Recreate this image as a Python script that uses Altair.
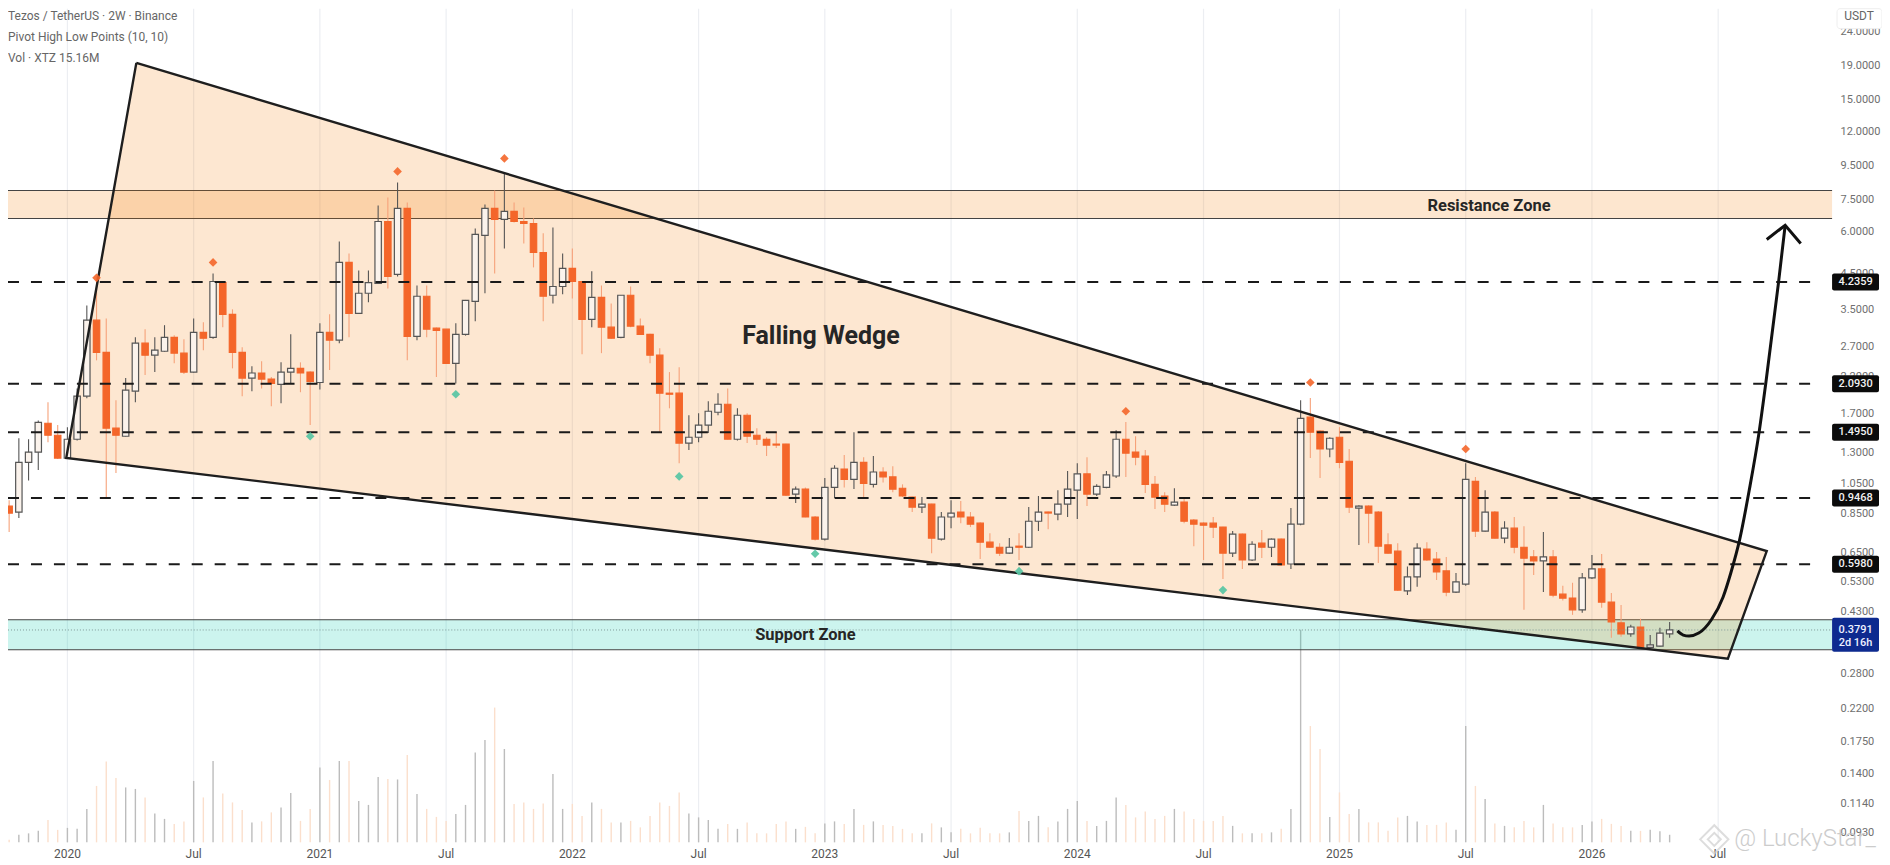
import altair as alt
import numpy as np
import pandas as pd

W, H = 1827, 835
X_DOM = [-6.118, 181.73]
Y_DOM = [0.0869, 28.2]

first_bar = -6
opens = [.895,.859,1.213,1.302,1.59,1.463,1.249,1.423,1.919,3.25,2.60,1.537,1.453,1.986,2.772,2.55,2.62,2.886,2.586,2.268,2.988,2.886,4.22,3.385,2.60,2.176,2.253,2.161,2.082,2.268,2.327,2.268,2.11,2.988,2.83,4.852,3.408,3.918,4.192,6.445,4.465,7.058,2.907,3.837,3.075,3.053,2.41,2.947,3.704,5.854,7.058,6.54,6.912,6.445,6.356,5.197,3.864,4.106,4.655,4.25,3.27,3.81,3.096,2.886,3.864,3.118,2.947,2.55,1.959,1.959,1.386,1.443,1.57,1.716,1.814,1.423,1.681,1.463,1.423,1.376,1.376,.973,1.007,.830,.712,1.019,1.158,1.078,1.213,1.041,1.134,1.096,1.013,.953,.889,.907,.712,.830,.859,.83,.795,.697,.673,.646,.678,.673,.806,.859,.847,.907,1.00,1.119,.973,1.019,1.103,1.423,1.302,1.266,1.041,.96,.901,.92,.812,.795,.795,.774,.646,.737,.616,.692,.673,.712,.599,.79,1.659,1.505,1.33,1.443,1.222,.883,.895,.859,.684,.655,.497,.548,.664,.62,.571,.493,.521,1.063,.753,.859,.717,.768,.673,.629,.612,.629,.486,.473,.436,.544,.579,.46,.398,.369,.387,.336,.339,.369]
highs = [.933,1.433,1.423,1.62,1.84,1.57,1.548,2.025,3.60,4.40,3.29,1.865,2.176,2.886,3.053,2.886,3.14,2.927,2.847,3.29,3.205,4.495,4.26,3.504,2.696,2.36,2.443,2.191,2.426,2.947,2.426,2.28,3.183,3.385,5.61,5.16,4.59,4.59,7.206,7.61,8.45,7.357,4.134,4.134,3.09,3.06,3.183,3.74,6.14,7.256,7.99,9.05,7.357,7.107,6.585,5.935,6.182,5.16,5.345,4.26,4.56,4.134,3.65,3.87,4.106,3.29,2.96,2.677,2.268,2.343,1.681,1.704,1.852,1.959,2.025,1.764,1.704,1.537,1.443,1.494,1.38,1.026,1.019,.836,1.088,1.188,1.275,1.494,1.257,1.266,1.172,1.18,1.041,.955,.953,.91,.859,.933,.927,.859,.80,.742,.692,.717,.742,.889,.96,.862,1.00,1.142,1.205,1.257,1.041,1.142,1.515,1.603,1.453,1.32,1.103,.986,1.013,.953,.818,.80,.83,.776,.753,.74,.702,.758,.715,.715,.883,1.865,1.893,1.515,1.443,1.548,1.33,.901,.901,.865,.742,.692,.589,.692,.697,.651,.629,.563,1.205,1.096,1.00,.865,.806,.83,.778,.66,.748,.66,.515,.526,.563,.638,.642,.49,.451,.393,.41,.366,.385,.401]
lows = [.748,.824,1.07,1.15,1.395,1.24,1.24,1.41,1.89,2.46,.953,1.126,1.45,1.839,2.222,2.268,2.61,2.41,2.237,2.26,2.64,2.86,3.096,2.327,1.919,1.986,2.025,1.789,1.827,2.096,1.972,1.57,2.011,2.30,2.772,2.886,3.40,3.678,4.18,4.05,4.40,2.46,2.83,2.886,2.191,2.40,2.096,2.92,3.228,3.918,4.495,5.345,6.40,5.534,4.687,3.228,3.65,3.89,3.78,2.568,3.096,2.586,2.86,2.867,3.096,2.94,2.41,1.494,1.764,1.205,1.32,1.395,1.485,1.681,1.42,1.41,1.386,1.367,1.266,1.34,.96,.914,.828,.705,.705,.947,1.019,1.007,.953,1.019,1.055,.986,.953,.859,.853,.646,.705,.768,.795,.774,.62,.669,.633,.643,.616,.669,.753,.763,.812,.83,.818,.895,.96,1.013,1.088,1.096,1.188,.98,.877,.859,.895,.795,.678,.616,.717,.54,.629,.579,.612,.624,.629,.593,.579,.784,1.249,1.088,1.257,1.164,.853,.684,.692,.603,.643,.497,.483,.512,.612,.536,.479,.49,.515,.723,.75,.715,.692,.646,.436,.555,.493,.476,.465,.421,.427,.54,.442,.359,.362,.362,.334,.335,.338,.359]
closes = [.853,1.213,1.302,1.60,1.463,1.249,1.423,1.919,3.25,2.60,1.537,1.463,2.00,2.772,2.55,2.64,2.886,2.586,2.268,2.988,2.867,4.25,3.385,2.60,2.176,2.253,2.161,2.096,2.268,2.327,2.253,2.125,2.988,2.83,4.852,3.408,3.918,4.22,6.445,4.40,7.058,2.907,3.837,3.053,3.03,2.41,2.947,3.73,5.895,7.058,6.54,6.912,6.445,6.356,5.197,3.837,4.106,4.655,4.25,3.27,3.81,3.096,2.867,3.864,3.118,2.947,2.55,1.959,1.945,1.386,1.443,1.57,1.728,1.814,1.423,1.681,1.453,1.423,1.367,1.367,.966,1.007,.830,.712,1.019,1.164,1.078,1.213,1.048,1.134,1.096,1.007,.96,.889,.907,.717,.830,.853,.830,.79,.697,.673,.646,.673,.673,.806,.859,.853,.907,1.007,1.119,.973,1.026,1.111,1.423,1.293,1.257,1.041,.953,.907,.92,.806,.79,.784,.774,.646,.737,.616,.687,.673,.712,.595,.79,1.646,1.494,1.33,1.433,1.213,.889,.895,.853,.678,.646,.50,.548,.669,.616,.567,.493,.529,1.078,.753,.859,.717,.768,.673,.624,.612,.629,.483,.473,.436,.544,.579,.46,.401,.369,.387,.336,.342,.371,.3791]
volumes = [5,15,18,23,45,25,29,27,67,113,162,129,110,107,90,58,47,37,42,123,90,163,98,80,65,40,42,60,70,99,43,67,150,125,163,163,83,75,131,127,126,175,97,67,51,43,57,75,180,205,270,187,77,80,67,78,137,67,77,53,80,67,40,40,43,30,53,80,73,100,58,50,45,27,37,27,40,18,18,37,42,27,31,18,38,42,37,67,35,42,35,33,27,18,18,38,30,20,27,18,29,18,18,20,63,43,53,30,42,67,83,43,33,43,90,75,50,62,47,53,67,62,47,43,43,53,33,18,18,18,20,27,67,426,233,187,51,100,57,67,40,40,23,50,53,42,35,35,40,25,233,113,87,38,33,30,43,30,75,38,30,30,35,42,47,37,33,23,23,25,22,15.16]

tick_bars = [0, 13, 26, 39, 52, 65, 78, 91, 104, 117, 131, 144, 157, 170]
tick_text = ["2020", "Jul", "2021", "Jul", "2022", "Jul", "2023", "Jul", "2024", "Jul", "2025", "Jul", "2026", "Jul"]
price_ticks = [24, 19, 15, 12, 9.5, 7.5, 6, 4.5, 3.5, 2.7, 2.2, 1.7, 1.3, 1.05, .85, .65, .53, .43, .28, .22, .175, .14, .114, .093]

level_prices = [4.2359, 2.093, 1.495, .9468, .598]
resistance = [6.58, 7.99]
support = [.3306, .407]
last_price = .3791

pivot_high_bars = [3, 15, 34, 45, 109, 128, 144]
pivot_high_prices = [4.36, 4.852, 9.12, 9.98, 1.728, 2.11, 1.33]
pivot_low_bars = [25, 40, 63, 77, 98, 119]
pivot_low_prices = [1.453, 1.945, 1.10, .643, .57, .50]

wedge_bars = [7.1, 175.0, 171.0, -0.12, 7.1]
wedge_prices = [19.36, .655, .3106, 1.25, 19.36]

curve_bars = [165.8, 166.4, 167, 168, 169.3, 170.5, 171.3, 172.2, 173.2, 174.2, 174.9, 176.2, 176.9]
curve_prices = [.3766, .366, .3635, .371, .407, .476, .563, .707, 1.00, 1.485, 2.096, 4.19, 6.28]
head_bars = [175, 176.9, 178.5]
head_prices = [5.69, 6.28, 5.534]

df = pd.DataFrame({"i": list(range(first_bar, first_bar + len(opens))), "o": opens, "h": highs, "l": lows, "c": closes, "v": volumes})
df["dir"] = np.where(df.c >= df.o, "up", "down")

xs = alt.Scale(domain=X_DOM, nice=False, zero=False, padding=0)
ys = alt.Scale(type="log", domain=Y_DOM, nice=False)
vs = alt.Scale(domain=[0, 1670], nice=False)
X = lambda f: alt.X(f, type="quantitative", scale=xs, axis=None)
Y = lambda f: alt.Y(f, type="quantitative", scale=ys, axis=None)
DIR_DOMAIN = ["up", "down"]

ticks_df = pd.DataFrame({"i": tick_bars, "t": tick_text})
grid = alt.Chart(ticks_df).mark_rule(color="#eceef2", strokeWidth=1.2).encode(x=X("i"))
tick_labels = alt.Chart(ticks_df).mark_text(font="Roboto", fontSize=12, color="#555555", align="center", baseline="middle").encode(
    x=X("i"), y=alt.value(H + 12), text="t:N")

base = alt.Chart(df).mark_point(opacity=0).encode(
    x=X("i"),
    y=alt.Y("h:Q", scale=ys, axis=alt.Axis(
        orient="right", values=price_ticks, format=".4f", title=None, grid=False, domain=False, ticks=False,
        labelFont="Roboto", labelFontSize=11, labelColor="#6f6f6f", labelPadding=8, labelOverlap=False)),
)

vol = alt.Chart(df).mark_bar(size=1.4).encode(
    x=X("i"),
    y=alt.Y("v:Q", scale=vs, axis=None),
    color=alt.Color("dir:N", scale=alt.Scale(domain=DIR_DOMAIN, range=["#bcbcbc", "#fbdfcc"]), legend=None),
)

zones = pd.DataFrame({"x0": [X_DOM[0]] * 2, "x1": [X_DOM[1]] * 2,
                      "lo": [resistance[0], support[0]], "hi": [resistance[1], support[1]], "k": ["r", "s"]})
zone_rect = alt.Chart(zones).mark_rect(opacity=1).encode(
    x=X("x0"), x2="x1", y=Y("lo"), y2="hi",
    fill=alt.Fill("k:N", scale=alt.Scale(domain=["r", "s"], range=["#f57c0030", "#00c8aa33"]), legend=None),
)
zone_edges = alt.Chart(pd.DataFrame({"p": resistance + support, "x0": X_DOM[0], "x1": X_DOM[1]})).mark_rule(
    color="#444444", strokeWidth=1.1).encode(x=X("x0"), x2="x1", y=Y("p"))

w = pd.DataFrame({"i": wedge_bars, "p": wedge_prices, "n": range(len(wedge_bars))})
tl, tr, br, bl = [(wedge_bars[k], wedge_prices[k]) for k in range(4)]
lerp = lambda a, b, x: float(np.exp(np.log(a[1]) + (x - a[0]) / (b[0] - a[0]) * (np.log(b[1]) - np.log(a[1]))))
wedge_fill_df = pd.DataFrame({
    "i": [bl[0], tl[0], br[0], tr[0]],
    "top": [bl[1], tl[1], lerp(tl, tr, br[0]), tr[1]],
    "bot": [bl[1], lerp(bl, br, tl[0]), br[1], tr[1]],
})
wedge_fill = alt.Chart(wedge_fill_df).mark_area(color="#f57c00", opacity=0.18).encode(x=X("i"), y=Y("top"), y2="bot")
wedge_line = alt.Chart(w).mark_line(color="#1e1e1e", strokeWidth=2.4, strokeJoin="miter").encode(x=X("i"), y=Y("p"), order="n:Q")

wick = alt.Chart(df).mark_rule(strokeWidth=1.1).encode(
    x=X("i"), y=Y("h"), y2="l",
    color=alt.Color("dir:N", scale=alt.Scale(domain=DIR_DOMAIN, range=["#555555", "#f6a27a"]), legend=None),
)
body = alt.Chart(df).mark_bar(size=6.4, orient="vertical", strokeWidth=1.2).encode(
    x=X("i"), y=Y("o"), y2="c",
    fill=alt.Fill("dir:N", scale=alt.Scale(domain=DIR_DOMAIN, range=["#fbf3ec", "#f4662a"]), legend=None),
    stroke=alt.Stroke("dir:N", scale=alt.Scale(domain=DIR_DOMAIN, range=["#555555", "#f4662a"]), legend=None),
)

levels = alt.Chart(pd.DataFrame({"p": level_prices, "x0": X_DOM[0], "x1": 180.6})).mark_rule(
    color="#1a1a1a", strokeWidth=2, strokeDash=[11, 12]).encode(x=X("x0"), x2="x1", y=Y("p"))
last_line = alt.Chart(pd.DataFrame({"p": [last_price], "x0": X_DOM[0], "x1": X_DOM[1]})).mark_rule(
    color="#7f9a98", strokeWidth=1, strokeDash=[1, 2]).encode(x=X("x0"), x2="x1", y=Y("p"))

p_hi = alt.Chart(pd.DataFrame({"i": pivot_high_bars, "p": pivot_high_prices})).mark_point(
    shape="diamond", filled=True, size=75, color="#f4662a", opacity=0.9).encode(x=X("i"), y=Y("p"))
p_lo = alt.Chart(pd.DataFrame({"i": pivot_low_bars, "p": pivot_low_prices})).mark_point(
    shape="diamond", filled=True, size=75, color="#5cc6a4", opacity=0.95).encode(x=X("i"), y=Y("p"))

curve = alt.Chart(pd.DataFrame({"i": curve_bars, "p": curve_prices})).mark_line(
    color="#111111", strokeWidth=3, interpolate="monotone").encode(x=X("i"), y=Y("p"))
head = alt.Chart(pd.DataFrame({"i": head_bars, "p": head_prices})).mark_line(
    color="#111111", strokeWidth=3).encode(x=X("i"), y=Y("p"))

notes = pd.DataFrame({"i": [77.6, 146.4, 76], "p": [2.907, 7.2, .366], "t": ["Falling Wedge", "Resistance Zone", "Support Zone"], "s": [25, 16.5, 16.5]})
note_text = alt.Chart(notes).mark_text(font="Roboto", fontWeight="bold", color="#262626", align="center", baseline="middle").encode(
    x=X("i"), y=Y("p"), text="t:N", size=alt.Size("s:Q", scale=None, legend=None))

tag_k = float(np.exp(8.5 / 144.4))
tags = pd.DataFrame({"p": level_prices, "x0": X_DOM[1], "x1": X_DOM[1] + 47 / W * (X_DOM[1] - X_DOM[0])})
tags["hi"] = tags.p * tag_k
tags["lo"] = tags.p / tag_k
tags["t"] = [f"{v:.4f}" for v in level_prices]
tag_box = alt.Chart(tags).mark_rect(color="#0b0b0b", cornerRadius=2).encode(x=X("x0"), x2="x1", y=Y("lo"), y2="hi")
tag_text = alt.Chart(tags).mark_text(font="Roboto", fontSize=11, color="#f2f2f2", align="center", baseline="middle", fontWeight=500).encode(
    x=alt.value(W + 23.5), y=Y("p"), text="t:N")
blue = pd.DataFrame({"x0": [X_DOM[1]], "x1": [tags.x1[0]], "hi": [.4125], "lo": [.3257]})
blue_box = alt.Chart(blue).mark_rect(color="#0d2a8f", cornerRadius=2).encode(x=X("x0"), x2="x1", y=Y("lo"), y2="hi")
blue_text = alt.Chart(pd.DataFrame({"p": [last_price, .3475], "t": ["0.3791", "2d 16h"]})).mark_text(
    font="Roboto", fontSize=11, color="#eef1ff", align="center", baseline="middle", fontWeight=500).encode(
    x=alt.value(W + 23.5), y=Y("p"), text="t:N")

legend_df = pd.DataFrame({"t": ["Tezos / TetherUS · 2W · Binance", "Pivot High Low Points (10, 10)", "Vol · XTZ  15.16M"], "n": [0, 1, 2]})
legend = alt.Chart(legend_df).mark_text(font="Roboto", fontSize=12, color="#666666", align="left", baseline="middle").encode(
    x=alt.value(0), y=alt.Y("n:Q", scale=alt.Scale(domain=[0, 2], range=[7, 49], zero=False, nice=False), axis=None), text="t:N")

usdt_box = alt.Chart(pd.DataFrame({"a": [1]})).mark_rect(fill="#ffffff", stroke="#eeeeee", cornerRadius=3).encode(
    x=alt.value(W + 5), x2=alt.value(W + 50), y=alt.value(0), y2=alt.value(20))
usdt = alt.Chart(pd.DataFrame({"t": ["USDT"]})).mark_text(font="Roboto", fontSize=12, color="#666666", align="center", baseline="middle").encode(
    x=alt.value(W + 27), y=alt.value(7), text="t:N")

watermark = alt.Chart(pd.DataFrame({"t": ["@ LuckyStar_"]})).mark_text(
    font="Roboto", fontSize=24, fontWeight=300, color="#c4c4c4", align="left", baseline="middle", opacity=0.85).encode(
    x=alt.value(1729), y=alt.value(832), text="t:N")
logo = alt.Chart(pd.DataFrame({"s": [800, 170]})).mark_point(shape="diamond", filled=False, color="#cfcfcf", strokeWidth=2).encode(
    x=alt.value(1709), y=alt.value(832), size=alt.Size("s:Q", scale=None, legend=None))

chart = alt.layer(
    grid, base, vol, zone_rect, zone_edges, wedge_fill, wick, body, last_line, levels, wedge_line, p_hi, p_lo, curve, head,
    note_text, tag_box, tag_text, blue_box, blue_text, legend, usdt_box, usdt, tick_labels, logo, watermark,
).resolve_scale(y="independent", color="independent", fill="independent", stroke="independent", size="independent").properties(
    width=W, height=H, autosize=alt.AutoSizeParams(type="none"),
    padding={"left": 0, "top": 0, "right": 50, "bottom": 20},
).configure_view(stroke=None)

chart.save("out.html", embed_options={"renderer": "svg", "actions": False})
